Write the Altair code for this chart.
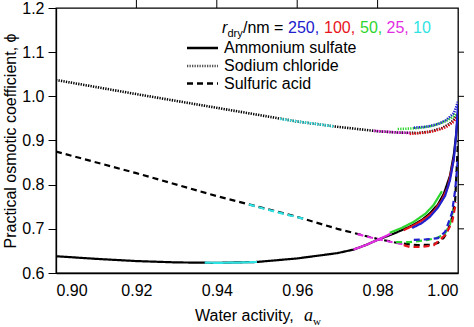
import altair as alt
import pandas as pd

# ---------------- data ----------------
SOLUTES = ["Ammonium sulfate", "Sodium chloride", "Sulfuric acid"]
RDRY = ["250", "100", "50", "25", "10"]

# Ammonium sulfate
AS_K_X = [0.90, 0.91, 0.92, 0.93, 0.94, 0.95, 0.96, 0.97, 0.974, 0.977, 0.98, 0.984, 0.988, 0.991, 0.993, 0.995, 0.9965, 0.998, 0.999, 0.9995, 1.0]
AS_K_Y = [0.638, 0.632, 0.627, 0.624, 0.623, 0.625, 0.633, 0.645, 0.653, 0.663, 0.675, 0.689, 0.705, 0.720, 0.735, 0.755, 0.780, 0.820, 0.870, 0.910, 0.962]
AS_C_X = [0.937, 0.94, 0.945, 0.95]
AS_C_Y = [0.6235, 0.623, 0.6235, 0.625]
AS_M_X = [0.974, 0.977, 0.98, 0.9835]
AS_M_Y = [0.653, 0.663, 0.675, 0.690]
AS_G_X = [0.983, 0.986, 0.989, 0.992, 0.994, 0.996]
AS_G_Y = [0.691, 0.702, 0.716, 0.735, 0.755, 0.785]
AS_R_X = [0.9865, 0.989, 0.992, 0.994, 0.996, 0.9975, 0.999]
AS_R_Y = [0.697, 0.708, 0.724, 0.740, 0.765, 0.795, 0.860]
AS_B_X = [0.9886, 0.991, 0.993, 0.995, 0.9968, 0.998, 0.999, 0.9995, 1.0]
AS_B_Y = [0.702, 0.713, 0.727, 0.748, 0.775, 0.810, 0.860, 0.910, 0.980]

# Sodium chloride
NA_K_X = [0.90, 0.92, 0.94, 0.96, 0.97, 0.98, 0.985, 0.99, 0.993, 0.996, 0.998, 0.999, 1.0]
NA_K_Y = [1.037, 1.005, 0.974, 0.943, 0.931, 0.921, 0.918, 0.917, 0.920, 0.928, 0.938, 0.948, 0.962]
NA_C_X = [0.9557, 0.96, 0.965, 0.969]
NA_C_Y = [0.949, 0.943, 0.937, 0.932]
NA_M_X = [0.979, 0.982, 0.985, 0.988]
NA_M_Y = [0.922, 0.920, 0.918, 0.917]
NA_G_X = [0.985, 0.988, 0.991, 0.994, 0.997, 0.999, 0.9995]
NA_G_Y = [0.926, 0.927, 0.929, 0.934, 0.944, 0.955, 0.962]
NA_R_X = [0.988, 0.991, 0.994, 0.997, 0.999, 0.9995]
NA_R_Y = [0.915, 0.917, 0.921, 0.930, 0.943, 0.952]
NA_B_X = [0.989, 0.992, 0.995, 0.997, 0.999, 1.0]
NA_B_Y = [0.929, 0.931, 0.937, 0.946, 0.962, 0.988]

# Sulfuric acid
SA_K_X = [0.90, 0.92, 0.94, 0.96, 0.97, 0.98, 0.985, 0.99, 0.993, 0.995, 0.9965, 0.9975, 0.9985, 0.9993, 1.0]
SA_K_Y = [0.875, 0.826, 0.774, 0.727, 0.700, 0.677, 0.668, 0.663, 0.664, 0.668, 0.680, 0.697, 0.725, 0.765, 0.900]
SA_C_X = [0.948, 0.952, 0.957, 0.9615]
SA_C_Y = [0.755, 0.745, 0.733, 0.723]
SA_M_X = [0.975, 0.978, 0.981, 0.984, 0.987]
SA_M_Y = [0.688, 0.681, 0.675, 0.669, 0.664]
SA_G_X = [0.9846, 0.988, 0.9925, 0.995, 0.9968, 0.998, 0.999]
SA_G_Y = [0.670, 0.670, 0.675, 0.680, 0.690, 0.710, 0.750]
SA_R_X = [0.9865, 0.988, 0.991, 0.994, 0.9968, 0.9985, 0.9995]
SA_R_Y = [0.663, 0.659, 0.659, 0.663, 0.686, 0.713, 0.760]
SA_B_X = [0.989, 0.992, 0.995, 0.9968, 0.9985, 0.9993, 1.0]
SA_B_Y = [0.675, 0.676, 0.679, 0.693, 0.736, 0.788, 0.860]

X_TICKS = [0.90, 0.92, 0.94, 0.96, 0.98, 1.00]
Y_TICKS = [0.6, 0.7, 0.8, 0.9, 1.0, 1.1, 1.2]

# ---------------- styles ----------------
COLORS = ["k", "c", "m", "g", "r", "b"]
HEX = {"k": "#000000", "c": "#2ee3e3", "m": "#e22ee2", "g": "#2ed52e", "r": "#e8141c", "b": "#2020cc"}
NUM_HEX = ["#2020cc", "#e8141c", "#2ed52e", "#e22ee2", "#2ee3e3"]
DASH = {"Ammonium sulfate": [1, 0], "Sodium chloride": [1.3, 1.2], "Sulfuric acid": [6, 4]}
WIDTH = {"Ammonium sulfate": 2.2, "Sodium chloride": 2.6, "Sulfuric acid": 2.2}
FONT = "Liberation Sans"

src = {
    ("Ammonium sulfate", "k"): (AS_K_X, AS_K_Y), ("Ammonium sulfate", "c"): (AS_C_X, AS_C_Y),
    ("Ammonium sulfate", "m"): (AS_M_X, AS_M_Y), ("Ammonium sulfate", "g"): (AS_G_X, AS_G_Y),
    ("Ammonium sulfate", "r"): (AS_R_X, AS_R_Y), ("Ammonium sulfate", "b"): (AS_B_X, AS_B_Y),
    ("Sodium chloride", "k"): (NA_K_X, NA_K_Y), ("Sodium chloride", "c"): (NA_C_X, NA_C_Y),
    ("Sodium chloride", "m"): (NA_M_X, NA_M_Y), ("Sodium chloride", "g"): (NA_G_X, NA_G_Y),
    ("Sodium chloride", "r"): (NA_R_X, NA_R_Y), ("Sodium chloride", "b"): (NA_B_X, NA_B_Y),
    ("Sulfuric acid", "k"): (SA_K_X, SA_K_Y), ("Sulfuric acid", "c"): (SA_C_X, SA_C_Y),
    ("Sulfuric acid", "m"): (SA_M_X, SA_M_Y), ("Sulfuric acid", "g"): (SA_G_X, SA_G_Y),
    ("Sulfuric acid", "r"): (SA_R_X, SA_R_Y), ("Sulfuric acid", "b"): (SA_B_X, SA_B_Y),
}

xscale = alt.Scale(domain=[0.90, 1.00], nice=False, zero=False)
yscale = alt.Scale(domain=[0.6, 1.2], nice=False, zero=False)

x_axis = alt.Axis(values=X_TICKS, format=".2f", tickSize=0, labelPadding=9, labelFontSize=16,
                  labelOverlap=False, grid=False, title=None, labelFont=FONT)
y_axis = alt.Axis(values=Y_TICKS, format=".1f", tickSize=8, labelPadding=4, labelFontSize=16,
                  grid=False, title="Practical osmotic coefficient, ϕ", titleFontSize=16,
                  titleFontWeight="normal", titlePadding=3, labelFont=FONT, titleFont=FONT)

layers = []
for c in COLORS:
    for s in SOLUTES:
        xs, ys = src[(s, c)]
        d = pd.DataFrame({"x": xs, "y": ys, "i": list(range(len(xs)))})
        layers.append(
            alt.Chart(d).mark_line(color=HEX[c], strokeDash=DASH[s], strokeWidth=WIDTH[s],
                                   clip=True, strokeCap="butt").encode(
                x=alt.X("x:Q", scale=xscale, axis=x_axis),
                y=alt.Y("y:Q", scale=yscale, axis=y_axis),
                order="i:Q",
            )
        )

# outward ticks on top and right frame
top_ticks = alt.Chart(pd.DataFrame({"x": X_TICKS[1:-1]})).mark_rule(color="black", strokeWidth=1).encode(
    x=alt.X("x:Q", scale=xscale), y=alt.value(0), y2=alt.value(-8))
right_ticks = alt.Chart(pd.DataFrame({"y": Y_TICKS[1:-1]})).mark_rule(color="black", strokeWidth=1).encode(
    y=alt.Y("y:Q", scale=yscale), x=alt.value(402), x2=alt.value(408))
layers += [top_ticks, right_ticks]

# legend (built by hand)
one = pd.DataFrame({"a": [0]})
LEG_Y = [40, 58, 75.5]
for s, yy in zip(SOLUTES, LEG_Y):
    col = "#555555" if s == "Sodium chloride" else "black"
    layers.append(alt.Chart(one).mark_rule(color=col, strokeDash=DASH[s], strokeWidth=2.6).encode(
        x=alt.value(131), x2=alt.value(162), y=alt.value(yy)))
    layers.append(alt.Chart(one).mark_text(align="left", baseline="middle", fontSize=16, font=FONT,
                                           color="black", text=s).encode(
        x=alt.value(168), y=alt.value(yy)))

layers.append(alt.Chart(one).mark_text(align="left", baseline="alphabetic", fontSize=16, font=FONT,
                                       fontStyle="italic", text="r").encode(x=alt.value(166), y=alt.value(25)))
layers.append(alt.Chart(one).mark_text(align="left", baseline="alphabetic", fontSize=11, font=FONT,
                                       text="dry").encode(x=alt.value(171.5), y=alt.value(29)))
layers.append(alt.Chart(one).mark_text(align="left", baseline="alphabetic", fontSize=16, font=FONT,
                                       text="/nm =").encode(x=alt.value(187), y=alt.value(25)))
num_x = [232, 268, 304, 330.5, 357]
for k, (t, colr, xx) in enumerate(zip(RDRY, NUM_HEX, num_x)):
    label = t + ("," if k < len(RDRY) - 1 else "")
    layers.append(alt.Chart(one).mark_text(align="left", baseline="alphabetic", fontSize=16, font=FONT,
                                           color=colr, text=label).encode(x=alt.value(xx), y=alt.value(25)))

# x-axis title: "Water activity, a_w"
layers.append(alt.Chart(one).mark_text(align="left", baseline="alphabetic", fontSize=16, font=FONT,
                                       text="Water activity,").encode(x=alt.value(139), y=alt.value(313)))
layers.append(alt.Chart(one).mark_text(align="left", baseline="alphabetic", fontSize=18, font="Liberation Serif",
                                       fontStyle="italic", text="a").encode(x=alt.value(248), y=alt.value(313)))
layers.append(alt.Chart(one).mark_text(align="left", baseline="alphabetic", fontSize=11, font="Liberation Serif",
                                       text="w").encode(x=alt.value(257), y=alt.value(317)))

chart = alt.layer(*layers).properties(
    width=402, height=265,
    autosize=alt.AutoSizeParams(type="none"),
    padding={"left": 56, "top": 8, "right": 16, "bottom": 54},
).configure_view(stroke="black", strokeWidth=1.3).configure_axis(
    domainColor="black", tickColor="black", labelColor="black", titleColor="black", domainWidth=1.3
)

chart.save("out.html", embed_options={"renderer": "svg", "actions": False})
